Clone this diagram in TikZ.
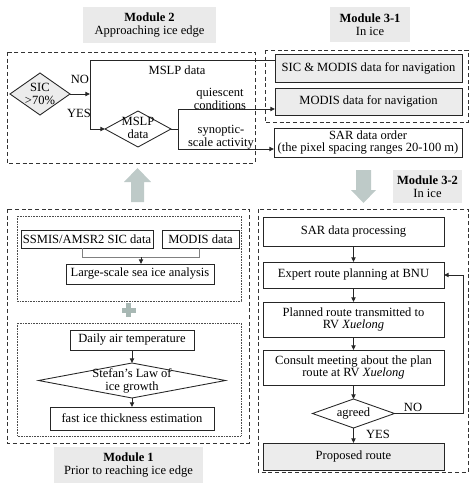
\documentclass[tikz,border=0pt]{standalone}
\usepackage{fontspec}
\setmainfont{Liberation Serif}
\usetikzlibrary{arrows.meta,shapes.geometric}
\definecolor{boxgray}{RGB}{236,236,236}
\definecolor{labgray}{RGB}{234,234,234}
\definecolor{bigarrow}{RGB}{190,202,200}
\definecolor{plusgray}{RGB}{168,184,180}
\begin{document}
\begin{tikzpicture}[x=0.75pt,y=-0.75pt,
 font=\fontsize{9.4}{9.6}\selectfont,
 every node/.style={inner sep=0pt, outer sep=0pt},
 wh/.style 2 args={minimum width=#1*0.75pt, minimum height=#2*0.75pt},
 box/.style={draw=black!85, line width=0.65pt, fill=white, align=center},
 gbox/.style={box, fill=boxgray},
 lab/.style={fill=labgray, align=center},
 dia/.style={diamond, draw=black!85, line width=0.65pt, fill=white},
 frame/.style={draw=black!80, line width=0.7pt, dash pattern=on 3pt off 2pt},
 dotframe/.style={draw=black!70, line width=0.5pt, dash pattern=on 0.6pt off 0.6pt},
 conn/.style={draw=black!85, line width=0.65pt},
 arr/.style={conn, -{Triangle[length=3.5pt,width=3.2pt]}},
 txt/.style={align=center},
]
\useasboundingbox (0,0) rectangle (474,489);

% ---------- big arrows and plus ----------
\fill[bigarrow] (131,202) -- (131,182) -- (124,182) -- (137.5,168) -- (151,182) -- (144,182) -- (144,202) -- cycle;
\fill[bigarrow] (356,170) -- (371,170) -- (371,190) -- (376,190) -- (363.5,203) -- (351,190) -- (356,190) -- cycle;

% ---------- Module 2 ----------
\node[lab, wh={133}{36}] (m2) at (149.5,25) {\textbf{Module 2}\\Approaching ice edge};
\draw[frame] (7,52) rectangle (255,163);
\node[dia, fill=boxgray, wh={60}{42}] (sic) at (40,94) {};
\node[txt] (sict) at (40,94) {SIC\\>70\%};
\coordinate (b1t) at (90,60);
\coordinate (b1m) at (90,94);
\coordinate (b1b) at (90,129);
\draw[conn] (b1t) -- (b1b);
\draw[arr] (sic.east) -- (b1m);
\node[dia, wh={66}{36}] (mslp) at (138,129) {};
\node[txt] (mslpt) at (138,128) {MSLP\\data};
\draw[arr] (b1b) -- (mslp.west);
\node (no1) at (80,79) {NO};
\node (yes1) at (79,113) {YES};
\node (msl) at (177,70) {MSLP data};
\coordinate (b2m) at (178,129);
\coordinate (b2t) at (178,109);
\coordinate (b2b) at (178,149);
\draw[conn] (mslp.east) -- (b2m);
\draw[conn] (b2t) -- (b2b);
\node[txt] (quies) at (220,99) {quiescent\\conditions};
\node[txt] (synop) at (221,137) {synoptic-\\scale activity};

% ---------- Module 3-1 ----------
\node[lab, wh={80}{35}] (m31) at (370,24.5) {\textbf{Module 3-1}\\In ice};
\draw[frame] (265,50) rectangle (468,122);
\node[gbox, wh={187}{28}] (sicm) at (368.5,68) {SIC \& MODIS data for navigation};
\node[gbox, wh={187}{27}] (modn) at (368.5,101.5) {MODIS data for navigation};
\node[box, wh={188}{29}] (sar) at (368,142.5) {SAR data order\\(the pixel spacing ranges 20-100 m)};
\draw[conn] (b1t) -- (sicm.west |- b1t);
\draw[arr] (b2t) -- (modn.west |- b2t);
\draw[arr] (b2b) -- (sar.west |- b2b);

% ---------- Module 1 ----------
\draw[frame] (7,209) rectangle (249,443);
\draw[dotframe] (17,216) rectangle (241,301);
\draw[dotframe] (17,323) rectangle (241,436);
\node[box, wh={132}{18}] (ssmis) at (87,239) {SSMIS/AMSR2 SIC data};
\node[box, wh={77}{18}] (modd) at (200.5,239) {MODIS data};
\node[box, wh={148}{20}] (lsa) at (140,274) {Large-scale sea ice analysis};
\coordinate (j1) at (82,257);
\coordinate (j2) at (199,257);
\coordinate (j3) at (141,257);
\draw[conn, draw=black!50] (ssmis.south -| j1) -- (j1) -- (j2) -- (modd.south -| j2);
\draw[arr] (j3) -- (lsa.north -| j3);
\fill[plusgray] (126,303) rectangle (131,317);
\fill[plusgray] (121.5,307.5) rectangle (135.5,312.5);
\node[box, wh={124}{20}] (dat) at (132,340) {Daily air temperature};
\node[dia, wh={187}{35}] (stef) at (132,380.5) {};
\node[txt] (steft) at (132,381) {Stefan’s Law of\\ice growth};
\node[box, wh={164}{23}] (fit) at (132,418.5) {fast ice thickness estimation};
\draw[arr] (dat) -- (stef.north);
\draw[arr] (stef.south) -- (fit);
\node[lab, wh={149}{36}] (m1) at (128.5,465) {\textbf{Module 1}\\Prior to reaching ice edge};

% ---------- Module 3-2 ----------
\node[lab, wh={69}{33}] (m32) at (427.5,186.5) {\textbf{Module 3-2}\\In ice};
\draw[frame] (258,209) rectangle (468,472);
\node[box, wh={181}{29}] (sarp) at (353.5,231.5) {SAR data processing};
\node[box, wh={181}{26}] (exp) at (353.5,275) {Expert route planning at BNU};
\node[box, wh={181}{35}] (plan) at (353.5,319.5) {Planned route transmitted to\\RV \textit{Xuelong}};
\node[box, wh={181}{35}] (cons) at (353.5,367.5) {Consult meeting about the plan\\route at RV \textit{Xuelong}};
\node[dia, wh={82}{29}] (agr) at (353.5,413.5) {};
\node (agrt) at (353.5,413.5) {agreed};
\node[gbox, wh={181}{27}] (prop) at (353.5,456.5) {Proposed route};
\draw[arr] (sarp) -- (exp);
\draw[arr] (exp) -- (plan);
\draw[arr] (plan) -- (cons);
\draw[arr] (cons) -- (agr.north);
\draw[arr] (agr.south) -- (prop);
\coordinate (f1) at (463,413.5);
\coordinate (f2) at (463,275);
\draw[arr] (agr.east) -- (f1) -- (f2) -- (exp.east);
\node (no2) at (413,407) {NO};
\node (yes2) at (378,434) {YES};
\end{tikzpicture}
\end{document}
